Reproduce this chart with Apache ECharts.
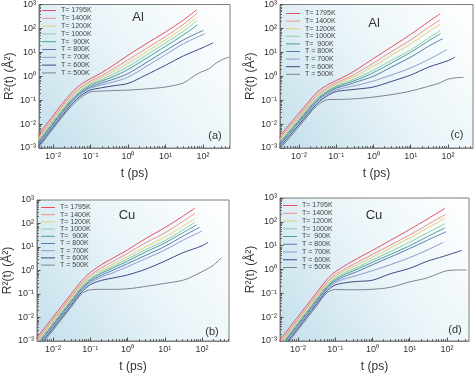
<!DOCTYPE html>
<html><head><meta charset="utf-8">
<script src="https://cdn.jsdelivr.net/npm/echarts@6/dist/echarts.min.js"></script>
<style>html,body{margin:0;padding:0;background:#fff}#c{width:474px;height:374px}</style>
</head><body><div id="c"></div>
<script>
// Series names (legend) and colours
const names = ['T= 1795K','T= 1400K','T= 1200K','T= 1000K','T=  900K','T = 800K','T = 700K','T = 600K','T = 500K'];
const colors = ['#e4505e','#ef8f86','#e6cf72','#92cda6','#4f9c98','#5a7cab','#8c9ccb','#3d4a82','#7c8494'];

// Tick values / labels
const xMajor = [0.01, 0.1, 1, 10, 100];
const xMajorLabels = ['10⁻²','10⁻¹','10⁰','10¹','10²'];
const yMajor = [0.001, 0.01, 0.1, 1, 10, 100, 1000];
const yMajorLabels = ['10⁻³','10⁻²','10⁻¹','10⁰','10¹','10²','10³'];

// Panel (a) Al  -- [t (ps), R^2 (A^2)]
const alA_1795 = [[0.0025,1.26e-3],[0.01,0.0224],[0.03,0.191],[0.06,0.501],[0.1,0.794],[0.2,1.41],[0.4,2.82],[1,7.5],[3,22.4],[10,70.8],[30,224],[68,603]];
const alA_1400 = [[0.0025,1.0e-3],[0.01,0.0174],[0.03,0.148],[0.06,0.38],[0.1,0.631],[0.2,1.05],[0.4,2.0],[1,4.79],[3,14.1],[10,45.7],[30,148],[68,417]];
const alA_1200 = [[0.0025,8.51e-4],[0.01,0.0148],[0.03,0.126],[0.06,0.331],[0.1,0.537],[0.2,0.871],[0.4,1.55],[1,3.47],[3,10],[10,33.1],[30,105],[68,288]];
const alA_1000 = [[0.0025,7.08e-4],[0.01,0.0126],[0.03,0.105],[0.06,0.282],[0.1,0.468],[0.2,0.724],[0.4,1.2],[1,2.51],[3,7.41],[10,24.5],[30,75.9],[68,209]];
const alA_900 = [[0.0025,6.31e-4],[0.01,0.0112],[0.03,0.0955],[0.06,0.251],[0.1,0.417],[0.2,0.631],[0.4,0.955],[1,1.91],[3,5.5],[10,17.8],[30,53.7],[71,141]];
const alA_800 = [[0.0025,5.62e-4],[0.01,0.01],[0.03,0.0851],[0.06,0.224],[0.1,0.355],[0.2,0.525],[0.4,0.741],[1,1.29],[3,3.63],[10,11.7],[30,33.1],[102,83.2]];
const alA_700 = [[0.0025,5.01e-4],[0.01,0.0087],[0.03,0.0741],[0.06,0.2],[0.1,0.316],[0.2,0.437],[0.4,0.575],[1,0.912],[3,2.51],[10,7.94],[30,22.9],[112,60.3]];
const alA_600 = [[0.0025,4.27e-4],[0.01,0.00741],[0.03,0.0631],[0.06,0.17],[0.1,0.263],[0.2,0.331],[0.4,0.398],[1,0.501],[3,1.12],[10,2.88],[30,7.08],[100,15.8],[186,25.1]];
const alA_500 = [[0.0025,3.55e-4],[0.01,0.00631],[0.03,0.0525],[0.06,0.141],[0.1,0.219],[0.2,0.24],[0.4,0.251],[1,0.263],[3,0.295],[10,0.355],[30,0.525],[56,1.0],[89,1.51],[141,2.0],[224,3.55],[355,5.25],[500,6.31]];

// Panel (b) Cu
const cuB_1795 = [[0.0025,6.31e-4],[0.01,0.0105],[0.03,0.0955],[0.06,0.38],[0.1,0.832],[0.2,1.78],[0.4,3.31],[1,7.59],[3,22.4],[10,66.1],[30,200],[65,457]];
const cuB_1400 = [[0.0025,4.9e-4],[0.01,0.00813],[0.03,0.0741],[0.06,0.295],[0.1,0.631],[0.2,1.32],[0.4,2.4],[1,5.37],[3,14.8],[10,39.8],[30,120],[65,269]];
const cuB_1200 = [[0.0025,4.17e-4],[0.01,0.00692],[0.03,0.0631],[0.06,0.251],[0.1,0.537],[0.2,1.07],[0.4,1.82],[1,3.89],[3,10],[10,26.3],[30,75.9],[65,166]];
const cuB_1000 = [[0.0025,3.55e-4],[0.01,0.00589],[0.03,0.0537],[0.06,0.214],[0.1,0.447],[0.2,0.871],[0.4,1.48],[1,3.09],[3,7.59],[10,18.6],[30,52.5],[65,112]];
const cuB_900 = [[0.0025,3.16e-4],[0.01,0.00525],[0.03,0.0479],[0.06,0.191],[0.1,0.398],[0.2,0.759],[0.4,1.26],[1,2.51],[3,6.03],[10,14.8],[30,39.8],[71,87.1]];
const cuB_800 = [[0.0025,2.82e-4],[0.01,0.00468],[0.03,0.0427],[0.06,0.17],[0.1,0.347],[0.2,0.631],[0.4,1.02],[1,1.95],[3,4.37],[10,10.5],[30,28.2],[87,69.2]];
const cuB_700 = [[0.0025,2.45e-4],[0.01,0.00407],[0.03,0.0372],[0.06,0.148],[0.1,0.302],[0.2,0.525],[0.4,0.794],[1,1.45],[3,3.16],[10,7.41],[30,19.1],[100,47.9]];
const cuB_600 = [[0.0025,2.09e-4],[0.01,0.00347],[0.03,0.0316],[0.06,0.126],[0.1,0.251],[0.2,0.38],[0.4,0.479],[1,0.646],[3,1.12],[10,2.51],[30,5.62],[100,11.2],[145,15.8]];
const cuB_500 = [[0.0025,1.74e-4],[0.01,0.00288],[0.03,0.0263],[0.06,0.105],[0.1,0.151],[0.2,0.158],[0.4,0.158],[1,0.166],[3,0.209],[10,0.282],[30,0.38],[45,0.479],[100,0.891],[200,1.66],[330,3.47]];

// Panel (c) Al
const alC_1795 = [[0.0025,2.24e-3],[0.01,0.0282],[0.03,0.209],[0.06,0.447],[0.1,0.661],[0.2,1.12],[0.4,2.14],[1,5.5],[3,16.6],[10,56.2],[30,191],[62,407]];
const alC_1400 = [[0.0025,1.78e-3],[0.01,0.0219],[0.03,0.162],[0.06,0.347],[0.1,0.537],[0.2,0.851],[0.4,1.51],[1,3.55],[3,10.5],[10,33.1],[30,110],[62,229]];
const alC_1200 = [[0.0025,1.51e-3],[0.01,0.0186],[0.03,0.138],[0.06,0.302],[0.1,0.468],[0.2,0.724],[0.4,1.2],[1,2.63],[3,7.41],[10,22.4],[30,72.4],[62,148]];
const alC_1000 = [[0.0025,1.26e-3],[0.01,0.0158],[0.03,0.117],[0.06,0.263],[0.1,0.398],[0.2,0.589],[0.4,0.912],[1,1.78],[3,4.57],[10,12.6],[30,39.8],[62,79.4]];
const alC_900 = [[0.0025,1.12e-3],[0.01,0.0141],[0.03,0.105],[0.06,0.234],[0.1,0.355],[0.2,0.513],[0.4,0.759],[1,1.41],[3,3.55],[10,10],[30,30.2],[63,60.3]];
const alC_800 = [[0.0025,1.0e-3],[0.01,0.0126],[0.03,0.0933],[0.06,0.209],[0.1,0.316],[0.2,0.437],[0.4,0.617],[1,1.0],[3,2.4],[10,6.31],[30,17.8],[72,37.2]];
const alC_700 = [[0.0025,8.91e-4],[0.01,0.011],[0.03,0.0813],[0.06,0.182],[0.1,0.269],[0.2,0.347],[0.4,0.437],[1,0.631],[3,1.12],[10,2.24],[30,5.01],[93,12.9]];
const alC_600 = [[0.0025,7.59e-4],[0.01,0.00933],[0.03,0.0692],[0.06,0.158],[0.1,0.229],[0.2,0.263],[0.4,0.295],[1,0.355],[3,0.603],[10,1.12],[30,2.4],[100,4.47],[155,6.31]];
const alC_500 = [[0.0025,6.31e-4],[0.01,0.00776],[0.03,0.0575],[0.06,0.105],[0.1,0.107],[0.2,0.11],[0.4,0.117],[1,0.135],[3,0.17],[10,0.24],[30,0.38],[56,0.501],[100,0.759],[178,0.871],[263,0.891]];

// Panel (d) Cu
const cuD_1795 = [[0.0025,6.31e-4],[0.01,0.0105],[0.03,0.0955],[0.06,0.38],[0.1,0.794],[0.2,1.58],[0.4,2.95],[1,6.31],[3,16.6],[10,47.9],[30,132],[89,372]];
const cuD_1400 = [[0.0025,4.9e-4],[0.01,0.00813],[0.03,0.0741],[0.06,0.295],[0.1,0.603],[0.2,1.15],[0.4,2.04],[1,4.27],[3,10.5],[10,28.2],[30,75.9],[89,200]];
const cuD_1200 = [[0.0025,4.17e-4],[0.01,0.00692],[0.03,0.0631],[0.06,0.251],[0.1,0.525],[0.2,0.955],[0.4,1.62],[1,3.31],[3,7.94],[10,21.4],[30,55.0],[89,141]];
const cuD_1000 = [[0.0025,3.55e-4],[0.01,0.00589],[0.03,0.0537],[0.06,0.214],[0.1,0.437],[0.2,0.776],[0.4,1.26],[1,2.51],[3,5.62],[10,14.1],[30,34.7],[89,83.2]];
const cuD_900 = [[0.0025,3.16e-4],[0.01,0.00525],[0.03,0.0479],[0.06,0.191],[0.1,0.38],[0.2,0.661],[0.4,1.05],[1,2.0],[3,4.27],[10,10],[30,24.0],[89,56.2]];
const cuD_800 = [[0.0025,2.82e-4],[0.01,0.00468],[0.03,0.0427],[0.06,0.17],[0.1,0.331],[0.2,0.55],[0.4,0.832],[1,1.58],[3,3.31],[10,7.59],[30,17.0],[93,38.0]];
const cuD_700 = [[0.0025,2.45e-4],[0.01,0.00407],[0.03,0.0372],[0.06,0.148],[0.1,0.282],[0.2,0.427],[0.4,0.575],[1,0.891],[3,1.58],[10,3.16],[30,6.61],[79,13.8]];
const cuD_600 = [[0.0025,2.09e-4],[0.01,0.00347],[0.03,0.0316],[0.06,0.126],[0.1,0.224],[0.2,0.282],[0.4,0.316],[1,0.355],[3,0.661],[10,1.12],[30,2.24],[80,3.55],[251,6.31]];
const cuD_500 = [[0.0025,1.74e-4],[0.01,0.00288],[0.03,0.0263],[0.06,0.105],[0.1,0.145],[0.2,0.141],[0.4,0.141],[1,0.148],[3,0.178],[10,0.302],[30,0.447],[63,0.708],[100,0.891],[200,0.955],[339,0.955]];

const panelSeries = [
  [alA_1795, alA_1400, alA_1200, alA_1000, alA_900, alA_800, alA_700, alA_600, alA_500],
  [cuB_1795, cuB_1400, cuB_1200, cuB_1000, cuB_900, cuB_800, cuB_700, cuB_600, cuB_500],
  [alC_1795, alC_1400, alC_1200, alC_1000, alC_900, alC_800, alC_700, alC_600, alC_500],
  [cuD_1795, cuD_1400, cuD_1200, cuD_1000, cuD_900, cuD_800, cuD_700, cuD_600, cuD_500]
];
const panelMetal = ['Al', 'Cu', 'Al', 'Cu'];
const panelTag = ['(a)', '(b)', '(c)', '(d)'];
const xRange = [[0.00424, 525], [0.0037, 530], [0.0031, 470], [0.0033, 390]];

// Layout
const grids = [
  {left: 39, top: 4, width: 191, height: 144},
  {left: 37, top: 200, width: 192, height: 142},
  {left: 280, top: 4, width: 193, height: 144},
  {left: 280, top: 198, width: 189, height: 143}
];
const metalPos = [[138, 17], [127, 215], [374, 23], [374, 215]];
const tagPos = [[215, 136], [212, 332], [457, 135], [455, 330]];
const legendPos = [[42, 7, 0.8], [41, 204, 0.2], [286, 10, 0.6], [283, 202, 0.75]];

const minorVals = [];
for (let e = -4; e <= 3; e++) for (let k = 2; k <= 9; k++) minorVals.push(+(k * Math.pow(10, e)).toPrecision(3));

const FONT = 'Liberation Sans, Arial, sans-serif';
function lab(val, majors, labels) {
  const i = Math.round(Math.log10(val)) - Math.round(Math.log10(majors[0]));
  return labels[i] || '';
}

const bg = {type: 'linear', x: 0, y: 1, x2: 1, y2: 0, colorStops: [
  {offset: 0, color: '#c3dfeb'}, {offset: 0.5, color: '#e9f4f8'}, {offset: 1, color: '#ffffff'}]};

const option = {
  animation: false,
  backgroundColor: '#ffffff',
  textStyle: {fontFamily: FONT},
  grid: grids.map(g => Object.assign({show: true, borderColor: '#7d7d7d', borderWidth: 1, backgroundColor: bg}, g)),
  xAxis: [], yAxis: [], series: [], legend: [], graphic: []
};

for (let p = 0; p < 4; p++) {
  option.xAxis.push({
    type: 'log', logBase: 10, gridIndex: p, position: 'bottom', min: xRange[p][0], max: xRange[p][1],
    name: 't (ps)', nameLocation: 'middle', nameGap: 20,
    nameTextStyle: {fontSize: 12, color: '#333', fontFamily: FONT},
    axisLine: {show: true, lineStyle: {color: '#7d7d7d', width: 1}},
    axisTick: {show: true, inside: true, length: 3.5, customValues: xMajor, lineStyle: {color: '#555'}},
    axisLabel: {show: true, customValues: xMajor, fontSize: 9, color: '#333', margin: 4, fontFamily: FONT,
      formatter: v => lab(v, xMajor, xMajorLabels)},
    splitLine: {show: false}, minorTick: {show: false}
  });
  option.yAxis.push({
    type: 'log', logBase: 10, gridIndex: p, position: 'left', min: 0.001, max: 1000,
    name: 'R²(t) (Å²)', nameLocation: 'middle', nameGap: 19,
    nameTextStyle: {fontSize: 12, color: '#333', fontFamily: FONT},
    axisLine: {show: true, lineStyle: {color: '#7d7d7d', width: 1}},
    axisTick: {show: true, inside: true, length: 3.5, customValues: yMajor, lineStyle: {color: '#555'}},
    axisLabel: {show: true, customValues: yMajor, fontSize: 9, color: '#333', margin: 3, fontFamily: FONT,
      formatter: v => lab(v, yMajor, yMajorLabels)},
    splitLine: {show: false}
  });
}
for (let p = 0; p < 4; p++) {
  option.xAxis.push({
    type: 'log', logBase: 10, gridIndex: p, position: 'bottom', min: xRange[p][0], max: xRange[p][1],
    axisLine: {show: false},
    axisTick: {show: true, inside: true, length: 2, customValues: minorVals, lineStyle: {color: '#666'}},
    axisLabel: {show: false}, splitLine: {show: false}
  });
  option.yAxis.push({
    type: 'log', logBase: 10, gridIndex: p, position: 'left', min: 0.001, max: 1000,
    axisLine: {show: false},
    axisTick: {show: true, inside: true, length: 2, customValues: minorVals, lineStyle: {color: '#666'}},
    axisLabel: {show: false}, splitLine: {show: false}
  });
}

for (let p = 0; p < 4; p++) {
  panelSeries[p].forEach((data, k) => {
    option.series.push({
      type: 'line', name: names[k], xAxisIndex: p, yAxisIndex: p, data: data,
      showSymbol: false, symbol: 'none', smooth: 0.3, clip: true, silent: true,
      lineStyle: {width: 1, color: colors[k]}, itemStyle: {color: colors[k]}, z: 20 - k
    });
  });
  option.legend.push({
    orient: 'vertical', left: legendPos[p][0], top: legendPos[p][1], itemGap: legendPos[p][2],
    itemWidth: 14, itemHeight: 1, icon: 'rect', padding: 0, selectedMode: false,
    textStyle: {fontSize: 7, lineHeight: 7, color: '#444', fontFamily: FONT},
    data: names
  });
  option.graphic.push({type: 'text', x: metalPos[p][0], y: metalPos[p][1], z: 100,
    style: {text: panelMetal[p], font: '13px ' + FONT, fill: '#333', align: 'center', verticalAlign: 'middle'}});
  option.graphic.push({type: 'text', x: tagPos[p][0], y: tagPos[p][1], z: 100,
    style: {text: panelTag[p], font: '11px ' + FONT, fill: '#333', align: 'center', verticalAlign: 'middle'}});
}

const chart = echarts.init(document.getElementById('c'), null, {renderer: 'canvas'});
chart.setOption(option);
</script>
</body></html>
